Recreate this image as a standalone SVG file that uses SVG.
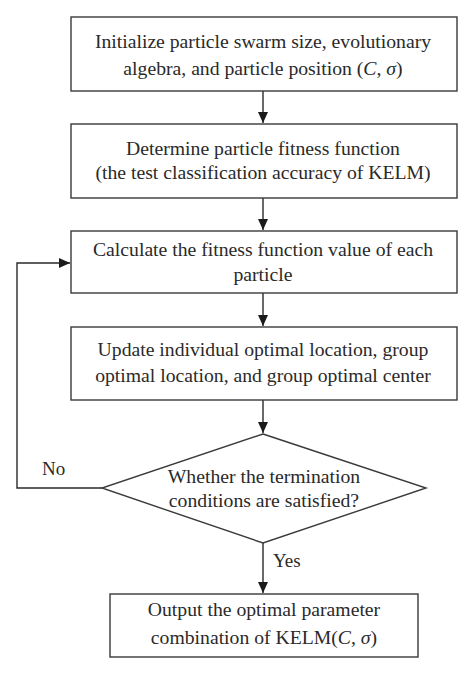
<svg xmlns="http://www.w3.org/2000/svg" width="474" height="674" viewBox="0 0 474 674">
<style>
.box{fill:#fff;stroke:#3a3a3a;stroke-width:1.4}
.t{font-family:"Liberation Serif","Times New Roman",serif;font-size:19.7px;fill:#2a2a2a;text-anchor:middle}
.l{font-family:"Liberation Serif","Times New Roman",serif;font-size:19px;fill:#2a2a2a}
.c{fill:none;stroke:#2a2a2a;stroke-width:1.4}
</style>
<defs>
<marker id="ah" markerWidth="12" markerHeight="12" refX="11" refY="5" orient="auto" markerUnits="userSpaceOnUse">
<path d="M0,0 L11,5 L0,10 Z" fill="#1a1a1a"/>
</marker>
</defs>
<rect width="474" height="674" fill="#fff"/>
<g id="connectors">
<line class="c" x1="263" y1="91" x2="263" y2="123" marker-end="url(#ah)"/>
<line class="c" x1="263" y1="198" x2="263" y2="230" marker-end="url(#ah)"/>
<line class="c" x1="263" y1="293" x2="263" y2="326" marker-end="url(#ah)"/>
<line class="c" x1="263" y1="400" x2="263" y2="433" marker-end="url(#ah)"/>
<line class="c" x1="263" y1="543" x2="263" y2="593" marker-end="url(#ah)"/>
<polyline class="c" points="102,488 17,488 17,263 70,263" marker-end="url(#ah)"/>
<text class="l" x="42" y="475">No</text>
<text class="l" x="273" y="567">Yes</text>
</g>
<g id="n1">
<rect class="box" x="71" y="17" width="386" height="74"/>
<text class="t" x="263" y="48">Initialize particle swarm size, evolutionary</text>
<text class="t" x="263" y="75">algebra, and particle position (<tspan font-style="italic">C</tspan>, <tspan font-style="italic">σ</tspan>)</text>
</g>
<g id="n2">
<rect class="box" x="71" y="124" width="386" height="74"/>
<text class="t" x="263" y="155">Determine particle fitness function</text>
<text class="t" x="263" y="179">(the test classification accuracy of KELM)</text>
</g>
<g id="n3">
<rect class="box" x="71" y="231" width="386" height="62"/>
<text class="t" x="263" y="256">Calculate the fitness function value of each</text>
<text class="t" x="263" y="281">particle</text>
</g>
<g id="n4">
<rect class="box" x="71" y="327" width="386" height="73"/>
<text class="t" x="263" y="356">Update individual optimal location, group</text>
<text class="t" x="263" y="382">optimal location, and group optimal center</text>
</g>
<g id="n5">
<polygon class="box" points="263,434 426,488 263,543 102,488"/>
<text class="t" x="264" y="483">Whether the termination</text>
<text class="t" x="264" y="507">conditions are satisfied?</text>
</g>
<g id="n6">
<rect class="box" x="110" y="594" width="308" height="63"/>
<text class="t" x="264" y="616">Output the optimal parameter</text>
<text class="t" x="264" y="644">combination of KELM(<tspan font-style="italic">C</tspan>, <tspan font-style="italic">σ</tspan>)</text>
</g>
</svg>
